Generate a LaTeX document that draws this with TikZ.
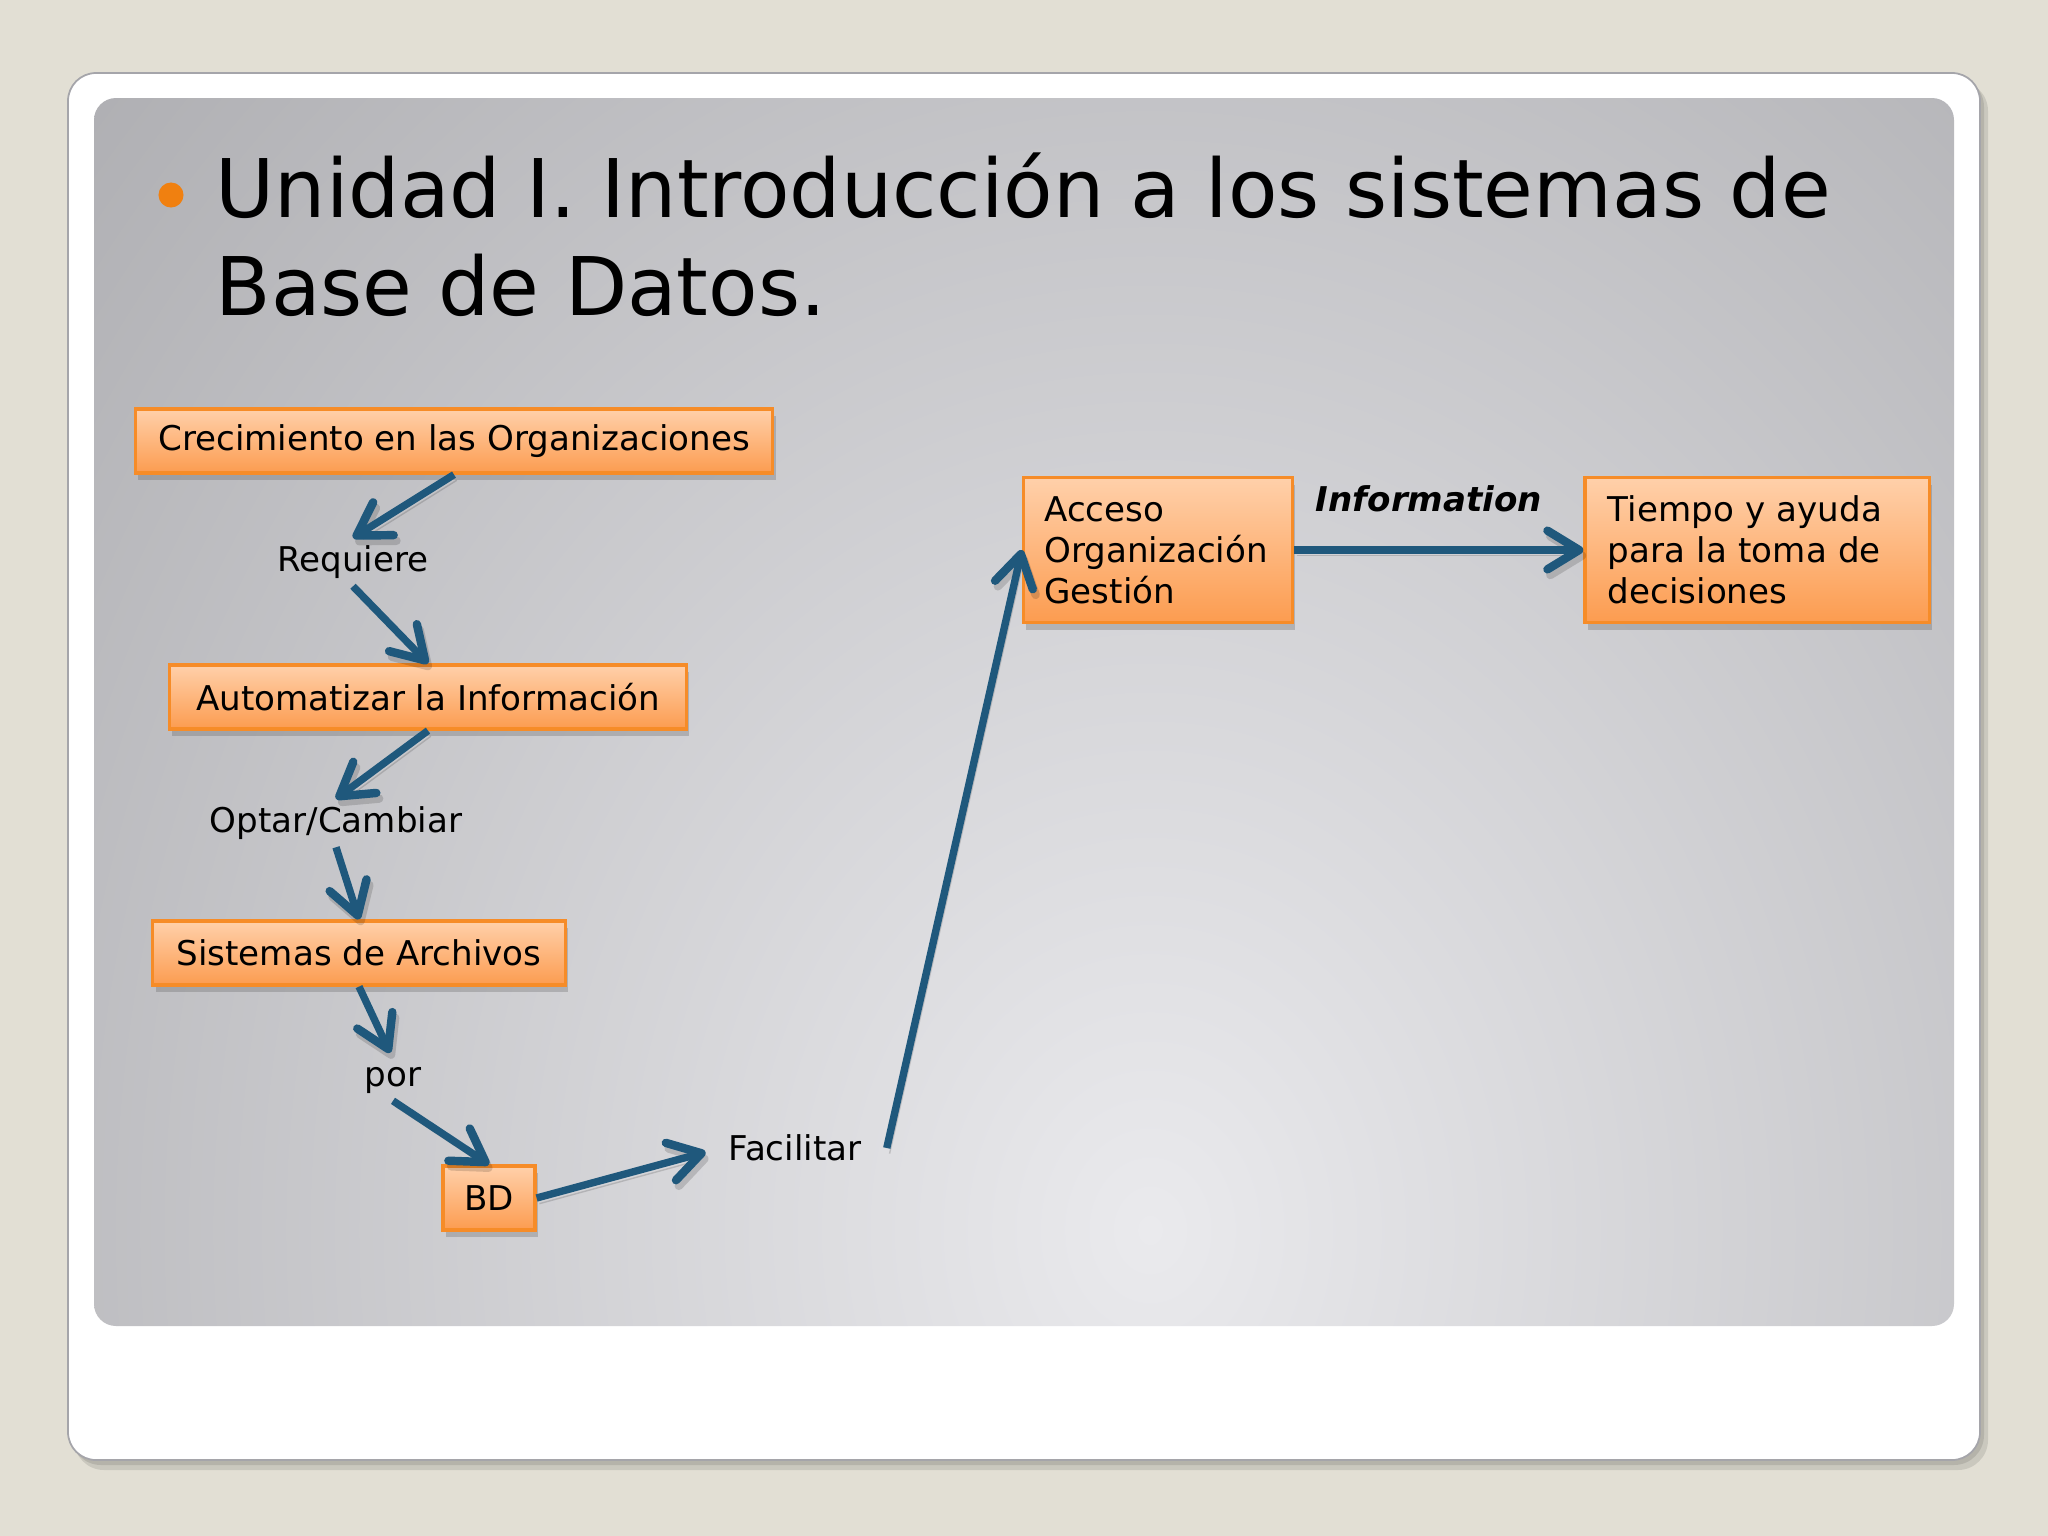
\documentclass[tikz,border=0pt]{standalone}
\usepackage{fontspec}
\setmainfont{DejaVu Sans}
\usetikzlibrary{arrows.meta,shadows}
\definecolor{pagebg}{RGB}{226,223,212}
\definecolor{cardedge}{RGB}{165,165,170}
\definecolor{panelin}{RGB}{234,234,237}
\definecolor{panelout}{RGB}{160,160,164}
\definecolor{boxtop}{RGB}{255,208,170}
\definecolor{boxbot}{RGB}{252,156,80}
\definecolor{boxedge}{RGB}{246,140,40}
\definecolor{arrowc}{RGB}{31,88,124}
\definecolor{bulletc}{RGB}{240,128,16}
\tikzset{
 box/.style={draw=boxedge, line width=0.9pt, top color=boxtop, bottom color=boxbot,
   minimum height=0.64cm, inner sep=0pt, font=\fontsize{9.7}{11.7}\selectfont,
   drop shadow={shadow xshift=0.8pt, shadow yshift=-2pt, opacity=0.25, fill=black!70}},
 lbl/.style={font=\fontsize{9.7}{11.7}\selectfont, inner sep=2pt},
 conn/.style={draw=arrowc, line width=2.1pt, -{Straight Barb[length=9pt,width=11pt,line width=2.4pt,round]},
   preaction={draw=black, opacity=0.15, transform canvas={xshift=0.8pt,yshift=-1.6pt}}},
}
\begin{document}
\begin{tikzpicture}[x=0.01cm, y=-0.01cm]
\useasboundingbox (0,0) rectangle (2048,1536);
\fill[pagebg] (0,0) rectangle (2048,1536);
% card
\fill[black, opacity=0.10, rounded corners=0.3cm] (74,81) rectangle (1988,1470);
\fill[black, opacity=0.10, rounded corners=0.3cm] (71,77) rectangle (1984,1465);
\filldraw[fill=white, draw=cardedge, line width=0.5pt, rounded corners=0.28cm] (68,73) rectangle (1980,1460);
% panel
\begin{scope}
\clip[rounded corners=0.22cm] (94,98) rectangle (1954,1326);
\shade[inner color=panelin, outer color=panelout] (1150,1230) ellipse [x radius=18cm, y radius=21.5cm];
\end{scope}
% title
\fill[bulletc] (171,195) circle (0.125cm);
\node[anchor=base west, align=left, inner sep=0pt, font=\fontsize{23}{27.6}\selectfont] (title) at (215,315) {Unidad I. Introducción a los sistemas de\\Base de Datos.};
% boxes
\node[box, minimum width=6.37cm] (b1) at (454,441) {Crecimiento en las Organizaciones};
\node[box, minimum width=5.17cm] (b2) at (428,697) {Automatizar la Información};
\node[box, minimum width=4.12cm] (b3) at (359,953) {Sistemas de Archivos};
\node[box, minimum width=0.92cm] (b4) at (489,1198) {BD};
\node[box, minimum width=2.69cm, minimum height=1.45cm, align=left, text width=2.27cm] (b5) at (1158,550) {Acceso\\Organización\\Gestión};
\node[box, minimum width=3.44cm, minimum height=1.45cm, align=left, text width=2.98cm] (b6) at (1757,550) {Tiempo y ayuda\\para la toma de\\decisiones};
% labels
\node[lbl] (req) at (353,562) {Requiere};
\node[lbl] (opt) at (336,823) {Optar/Cambiar};
\node[lbl] (por) at (393,1080) {por};
\node[lbl] (fac) at (795,1148) {Facilitar};
\node[lbl, font=\fontsize{9.7}{11.7}\selectfont\bfseries\itshape] (info) at (1429,499) {Information};
% connectors
\draw[conn] (b1.south) -- (req.north);
\draw[conn] (req.south) -- (b2.north);
\draw[conn] (b2.south) -- (opt.north);
\draw[conn] (opt.south) -- (b3.north);
\draw[conn, shorten >=2pt] (b3.south) -- (por.north);
\draw[conn] (por.south) -- (b4.north);
\draw[conn, shorten >=4.5pt] (b4.east) -- (fac.west);
\draw[conn] ([xshift=5pt]fac.east) -- (b5.west);
\draw[conn] (b5.east) -- (b6.west);
\end{tikzpicture}
\end{document}
